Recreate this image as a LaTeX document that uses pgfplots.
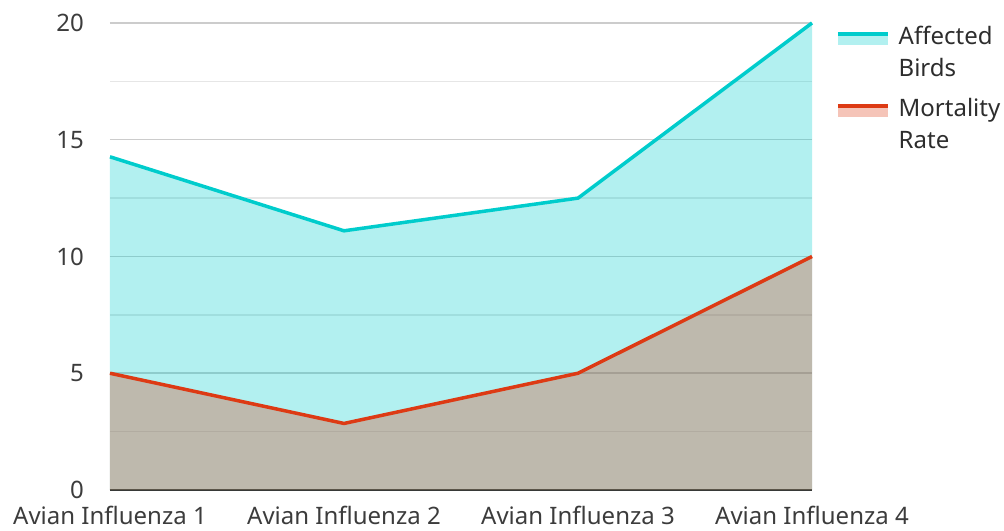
\documentclass[border=0pt]{standalone}
\usepackage{pgfplots}
\pgfplotsset{compat=1.18}
\usepackage{fontspec}
\setmainfont{Noto Sans}
\definecolor{cyanC}{RGB}{0,204,204}
\definecolor{redC}{RGB}{221,58,20}
\definecolor{txt}{RGB}{60,60,60}
\definecolor{legtxt}{RGB}{45,45,45}
\begin{document}
\fontsize{24bp}{32bp}\selectfont
\begin{tikzpicture}
\path[use as bounding box] (-110bp,-41bp) rectangle (894bp,490bp);
\begin{axis}[
  at={(0,0)}, anchor=south west,
  scale only axis, width=702bp, height=467bp,
  xmin=0, xmax=3, ymin=0, ymax=20,
  xtick={0,1,2,3},
  xticklabels={Avian Influenza 1,Avian Influenza 2,Avian Influenza 3,Avian Influenza 4},
  ytick={0,5,10,15,20},
  minor ytick={2.5,7.5,12.5,17.5},
  ymajorgrids, yminorgrids,
  major grid style={draw={rgb,255:red,204;green,204;blue,204}, line width=1.5bp},
  minor grid style={draw={rgb,255:red,230;green,230;blue,230}, line width=1.5bp},
  axis x line*=bottom, axis y line*=left,
  x axis line style={draw={rgb,255:red,51;green,51;blue,51}, line width=2bp, -},
  y axis line style={draw=none},
  major tick length=0pt, minor tick length=0pt,
  tick style={draw=none},
  /pgf/number format/assume math mode=true,
  ticklabel style={font=\fontsize{24bp}{28bp}\selectfont, text=txt},
  yticklabel style={anchor=east, xshift=-18bp},
  xticklabel style={anchor=north, yshift=-8bp},
  clip=false,
  legend cell align=left,
  legend style={at={(rel axis cs:1,1)}, anchor=north west, xshift=24bp, yshift=-1bp,
    draw=none, fill=none, inner sep=0pt, row sep=14bp, column sep=7bp,
    font=\fontsize{24bp}{32bp}\selectfont,
    nodes={align=left, text=legtxt, inner sep=2bp}},
]
\addplot[draw=none, fill=cyanC, fill opacity=0.3, forget plot] coordinates {(0,14.27) (1,11.1) (2,12.5) (3,20)} \closedcycle;
\addplot[draw=none, fill=redC, fill opacity=0.3, forget plot] coordinates {(0,5) (1,2.85) (2,5) (3,10)} \closedcycle;
\addplot[color=cyanC, line width=3.5bp,
  legend image code/.code={\path[fill=cyanC, fill opacity=0.3, draw=none] (0bp,8bp) rectangle (50bp,19bp);
    \draw[cyanC, line width=3.5bp] (0bp,19bp) -- (50bp,19bp);}]
  coordinates {(0,14.27) (1,11.1) (2,12.5) (3,20)};
\addlegendentry{Affected\\Birds}
\addplot[color=redC, line width=3.5bp,
  legend image code/.code={\path[fill=redC, fill opacity=0.3, draw=none] (0bp,8bp) rectangle (50bp,19bp);
    \draw[redC, line width=3.5bp] (0bp,19bp) -- (50bp,19bp);}]
  coordinates {(0,5) (1,2.85) (2,5) (3,10)};
\addlegendentry{Mortality\\Rate}
\end{axis}
\end{tikzpicture}
\end{document}
